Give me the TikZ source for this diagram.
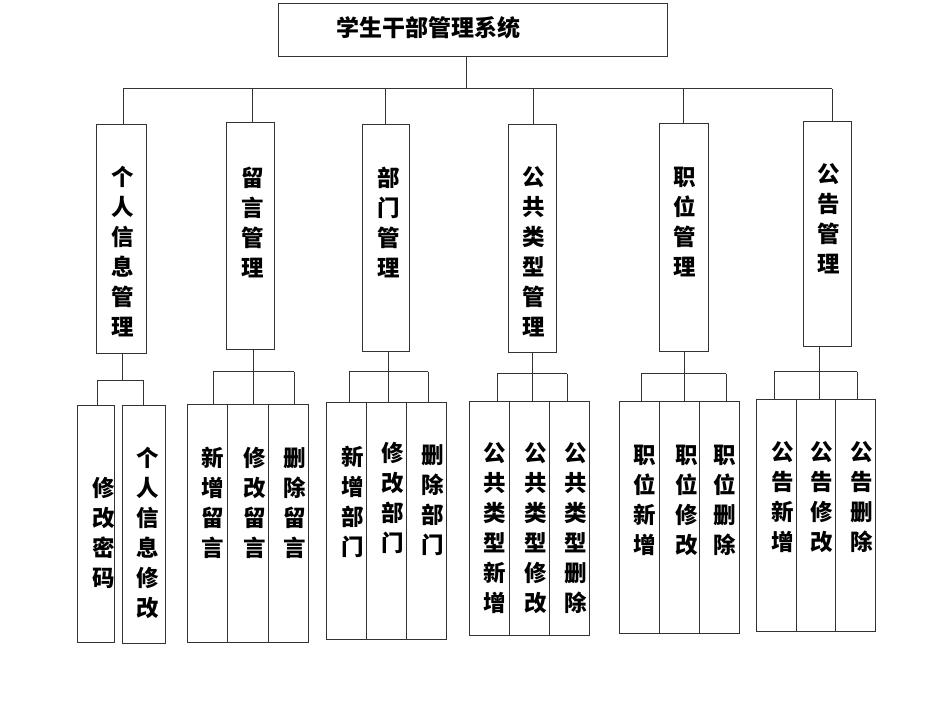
\documentclass[tikz,border=0pt]{standalone}
\usepackage{fontspec}
\newfontfamily\cjk{Noto Sans CJK SC}
\begin{document}
\begin{tikzpicture}[x=1pt,y=-1pt,
  bx/.style={draw=black!80, line width=1pt, inner sep=0pt, outer sep=0pt},
  ln/.style={draw=black!80, line width=1pt},
  lbl/.style={font=\cjk\bfseries\fontsize{22.5}{30}\selectfont, align=center, inner sep=0pt},
  ttl/.style={font=\cjk\bfseries\fontsize{23}{28}\selectfont, inner sep=0pt}]
\useasboundingbox[fill=white] (0,0) rectangle (926,708);
% top
\node[bx, minimum width=389pt, minimum height=53pt] (top) at (472.5,30.5) {};
\node[ttl] (ttext) at (428,28) {学生干部管理系统};
% level 2
\node[bx, minimum width=50pt, minimum height=229pt] (b1) at (121,239.5) {};
\node[bx, minimum width=48pt, minimum height=227pt] (b2) at (250,236.5) {};
\node[bx, minimum width=47pt, minimum height=227pt] (b3) at (385.5,238.5) {};
\node[bx, minimum width=48pt, minimum height=228pt] (b4) at (532,239) {};
\node[bx, minimum width=49pt, minimum height=228pt] (b5) at (683.5,238) {};
\node[bx, minimum width=48pt, minimum height=225pt] (b6) at (827,234.5) {};
\node[lbl] (t1) at (123,252) {个\\人\\信\\息\\管\\理};
\node[lbl] (t2) at (253,222) {留\\言\\管\\理};
\node[lbl] (t3) at (389,222) {部\\门\\管\\理};
\node[lbl] (t4) at (534,252) {公\\共\\类\\型\\管\\理};
\node[lbl] (t5) at (685,222) {职\\位\\管\\理};
\node[lbl] (t6) at (829,219) {公\\告\\管\\理};
% level 3
\node[bx, minimum width=37pt, minimum height=237pt] (c11) at (95.5,523.5) {};
\node[bx, minimum width=43pt, minimum height=238pt] (c12) at (143.5,524) {};
\node[bx, minimum width=40pt, minimum height=238pt] (c21) at (207,523) {};
\node[bx, minimum width=41pt, minimum height=238pt] (c22) at (247.5,523) {};
\node[bx, minimum width=40pt, minimum height=238pt] (c23) at (288,523) {};
\node[bx, minimum width=40pt, minimum height=237pt] (c31) at (346,520.5) {};
\node[bx, minimum width=40pt, minimum height=237pt] (c32) at (386,520.5) {};
\node[bx, minimum width=40pt, minimum height=237pt] (c33) at (426,520.5) {};
\node[bx, minimum width=40pt, minimum height=234pt] (c41) at (489,518) {};
\node[bx, minimum width=40pt, minimum height=234pt] (c42) at (529,518) {};
\node[bx, minimum width=40pt, minimum height=234pt] (c43) at (569,518) {};
\node[bx, minimum width=40pt, minimum height=232pt] (c51) at (639,517) {};
\node[bx, minimum width=40pt, minimum height=232pt] (c52) at (679,517) {};
\node[bx, minimum width=40pt, minimum height=232pt] (c53) at (719,517) {};
\node[bx, minimum width=40pt, minimum height=232pt] (c61) at (776,515) {};
\node[bx, minimum width=39pt, minimum height=232pt] (c62) at (815.5,515) {};
\node[bx, minimum width=40pt, minimum height=232pt] (c63) at (855,515) {};
\node[lbl] (s11) at (104,533) {修\\改\\密\\码};
\node[lbl] (s12) at (148,533) {个\\人\\信\\息\\修\\改};
\node[lbl] (s21) at (213,503) {新\\增\\留\\言};
\node[lbl] (s22) at (255,503) {修\\改\\留\\言};
\node[lbl] (s23) at (295,503) {删\\除\\留\\言};
\node[lbl] (s31) at (353,502) {新\\增\\部\\门};
\node[lbl] (s32) at (393,498) {修\\改\\部\\门};
\node[lbl] (s33) at (433,500) {删\\除\\部\\门};
\node[lbl] (s41) at (495,528) {公\\共\\类\\型\\新\\增};
\node[lbl] (s42) at (536,528) {公\\共\\类\\型\\修\\改};
\node[lbl] (s43) at (576,528) {公\\共\\类\\型\\删\\除};
\node[lbl] (s51) at (645,500) {职\\位\\新\\增};
\node[lbl] (s52) at (687,500) {职\\位\\修\\改};
\node[lbl] (s53) at (725,500) {职\\位\\删\\除};
\node[lbl] (s61) at (783,497) {公\\告\\新\\增};
\node[lbl] (s62) at (822,497) {公\\告\\修\\改};
\node[lbl] (s63) at (862,497) {公\\告\\删\\除};
% connectors level 1 -> 2
\coordinate (t0) at (466,89);
\coordinate (d1) at (123,89);
\coordinate (d2) at (252,89);
\coordinate (d3) at (385,89);
\coordinate (d4) at (533,89);
\coordinate (d5) at (683,89);
\coordinate (d6) at (832,89);
\draw[ln] (t0 |- top.south) -- (t0);
\draw[ln] (d1) -- (d6);
\foreach \i in {1,...,6} { \draw[ln] (d\i) -- (d\i |- b\i.north); }
% group 1
\coordinate (g1) at (122,380);
\coordinate (g1l) at (97,380);
\coordinate (g1r) at (143,380);
\draw[ln] (g1 |- b1.south) -- (g1);
\draw[ln] (g1l) -- (g1r);
\draw[ln] (g1l) -- (g1l |- c11.north);
\draw[ln] (g1r) -- (g1r |- c12.north);
% group 2
\coordinate (g2) at (253,372);
\coordinate (g2l) at (213,372);
\coordinate (g2r) at (294,372);
\draw[ln] (g2 |- b2.south) -- (g2 |- c22.north);
\draw[ln] (g2l) -- (g2r);
\draw[ln] (g2l) -- (g2l |- c21.north);
\draw[ln] (g2r) -- (g2r |- c23.north);
% group 3
\coordinate (g3) at (388,372);
\coordinate (g3l) at (349,372);
\coordinate (g3r) at (428,372);
\draw[ln] (g3 |- b3.south) -- (g3 |- c32.north);
\draw[ln] (g3l) -- (g3r);
\draw[ln] (g3l) -- (g3l |- c31.north);
\draw[ln] (g3r) -- (g3r |- c33.north);
% group 4
\coordinate (g4) at (532,374);
\coordinate (g4l) at (497,374);
\coordinate (g4r) at (567,374);
\draw[ln] (g4 |- b4.south) -- (g4 |- c42.north);
\draw[ln] (g4l) -- (g4r);
\draw[ln] (g4l) -- (g4l |- c41.north);
\draw[ln] (g4r) -- (g4r |- c43.north);
% group 5
\coordinate (g5) at (684,374);
\coordinate (g5l) at (641,374);
\coordinate (g5r) at (726,374);
\draw[ln] (g5 |- b5.south) -- (g5 |- c52.north);
\draw[ln] (g5l) -- (g5r);
\draw[ln] (g5l) -- (g5l |- c51.north);
\draw[ln] (g5r) -- (g5r |- c53.north);
% group 6
\coordinate (g6) at (819,372);
\coordinate (g6l) at (774,372);
\coordinate (g6r) at (857,372);
\draw[ln] (g6 |- b6.south) -- (g6 |- c62.north);
\draw[ln] (g6l) -- (g6r);
\draw[ln] (g6l) -- (g6l |- c61.north);
\draw[ln] (g6r) -- (g6r |- c63.north);
\end{tikzpicture}
\end{document}
